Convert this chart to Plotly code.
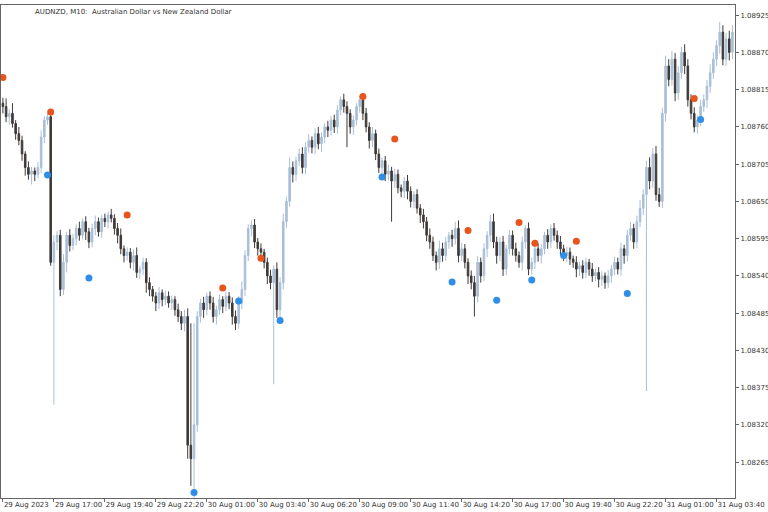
import plotly.graph_objects as go

closes = [
108790,108775,108780,108765,108750,108740,108720,108700,108690,108695,108690,108700,108745,108770,108775,108560,
108590,108600,108520,108560,108600,108585,108595,108610,108600,108620,108605,108590,108610,108620,108605,108625,
108620,108630,108625,108610,108600,108580,108570,108575,108560,108570,108545,108550,108560,108530,108520,108510,
108500,108515,108505,108510,108500,108505,108490,108480,108470,108480,108290,108270,108320,108480,108500,108490,
108510,108500,108480,108490,108505,108495,108510,108500,108480,108470,108500,108520,108570,108610,108615,108590,
108580,108575,108560,108540,108530,108550,108490,108530,108620,108650,108700,108690,108710,108720,108700,108730,
108740,108730,108750,108735,108745,108760,108755,108770,108760,108785,108800,108790,108780,108760,108770,108790,
108800,108780,108760,108740,108750,108720,108700,108710,108690,108695,108680,108690,108670,108665,108680,108665,
108650,108660,108640,108630,108620,108600,108590,108570,108560,108580,108570,108590,108600,108595,108610,108570,
108580,108560,108540,108530,108510,108560,108540,108580,108600,108620,108590,108570,108590,108550,108580,108600,
108580,108570,108560,108590,108610,108550,108560,108580,108570,108580,108600,108590,108610,108600,108590,108580,
108570,108575,108565,108560,108550,108555,108545,108560,108550,108540,108545,108535,108540,108530,108540,108550,
108560,108550,108580,108570,108600,108610,108590,108620,108640,108660,108700,108680,108720,108660,108650,108780,
108850,108830,108860,108810,108840,108870,108850,108800,108780,108760,108770,108790,108800,108820,108840,108860,
108880,108900,108860,108890,108870,108900]
wick_up = [
8,12,6,15,5,10,7,4,9,6,5,8,10,6,5,4,
10,6,8,12,5,9,7,6,10,5,8,6,7,9,6,5,
7,5,9,6,8,10,5,7,6,9,12,5,7,6,8,5,
6,9,5,8,7,6,5,9,8,10,12,180,150,8,6,9,
5,7,9,6,8,5,7,6,8,9,10,12,8,6,7,9,
6,8,5,7,9,6,10,8,12,7,15,9,6,8,10,7,
9,6,8,10,7,5,9,6,8,7,5,9,8,6,7,5,
6,9,8,7,10,6,8,5,7,9,6,8,7,5,6,9,
7,5,8,6,9,7,10,8,6,12,9,7,5,8,10,12,
9,7,6,8,10,9,7,8,6,10,12,8,7,9,6,8,
7,9,6,8,5,9,7,6,8,7,5,9,6,8,7,9,
6,8,7,5,9,6,8,7,5,9,6,8,7,5,9,6,
8,7,9,6,8,10,7,9,12,8,10,15,9,12,10,8,
15,10,12,9,10,8,12,10,8,9,7,10,8,9,12,10,
8,15,10,9,12,10]
wick_dn = [
10,8,12,6,9,7,10,12,8,15,10,6,8,9,7,5,
210,12,10,8,15,9,7,10,8,6,12,9,8,10,7,9,
8,10,6,9,12,8,10,7,9,12,8,10,9,15,10,8,
12,9,10,8,7,10,9,8,10,12,20,40,150,10,9,12,
8,10,9,12,8,10,7,9,12,10,8,9,10,8,12,9,
10,8,9,12,10,150,12,15,10,9,8,12,10,8,9,10,
8,9,10,8,12,9,10,8,9,10,8,9,50,10,12,8,
9,10,8,12,10,9,8,12,10,9,60,10,8,9,10,12,
9,10,8,12,10,9,10,8,12,10,9,8,10,12,9,10,
8,9,12,10,30,9,10,8,12,10,9,12,8,10,9,8,
10,9,8,12,10,9,8,10,9,12,8,10,9,8,10,9,
8,10,9,8,12,10,9,8,10,9,8,12,10,9,8,10,
9,8,10,12,9,8,10,9,8,10,290,12,10,9,8,10,
12,10,9,12,10,9,12,10,9,8,10,9,8,12,10,9,
10,12,9,10,12,10]
tick_idx = list(range(0, 230, 16))
tick_text = ["29 Aug 2023","29 Aug 17:00","29 Aug 19:40","29 Aug 22:20","30 Aug 01:00",
             "30 Aug 03:40","30 Aug 06:20","30 Aug 09:00","30 Aug 11:40","30 Aug 14:20",
             "30 Aug 17:00","30 Aug 19:40","30 Aug 22:20","31 Aug 01:00","31 Aug 03:40"]
y_ticks = [1.08925,1.08870,1.08815,1.08760,1.08705,1.08650,1.08595,1.08540,1.08485,
           1.08430,1.08375,1.08320,1.08265]
up_idx = [0,15,39,69,81,113,123,146,162,167,180,217]
up_val = [1.08833,1.08782,1.08630,1.08522,1.08566,1.08805,1.08742,1.08607,1.08619,1.08588,1.08591,1.08802]
dn_idx = [14,27,60,74,87,119,141,155,166,176,196,219]
dn_val = [1.08689,1.08537,1.08220,1.08503,1.08474,1.08686,1.08531,1.08504,1.08534,1.08570,1.08514,1.08771]

c = [v/1e5 for v in closes]
o = [c[0]+0.00005] + c[:-1]
h = [max(a,b)+u/1e5 for a,b,u in zip(o,c,wick_up)]
l = [min(a,b)-d/1e5 for a,b,d in zip(o,c,wick_dn)]
x = list(range(len(c)))

fig = go.Figure()
fig.add_trace(go.Candlestick(x=x, open=o, high=h, low=l, close=c, whiskerwidth=0,
    increasing=dict(line=dict(color="#a9bfd8", width=1), fillcolor="#a9bfd8"),
    decreasing=dict(line=dict(color="#3e3a38", width=1), fillcolor="#3e3a38"),
    hoverinfo="skip"))
fig.add_trace(go.Scatter(x=up_idx, y=up_val, mode="markers", marker=dict(color="#e8541e", size=7)))
fig.add_trace(go.Scatter(x=dn_idx, y=dn_val, mode="markers", marker=dict(color="#2f8fe6", size=7)))
fig.update_layout(width=768, height=512, margin=dict(l=1, r=33, t=5, b=14, autoexpand=False),
    paper_bgcolor="white", plot_bgcolor="white", showlegend=False,
    font=dict(family="DejaVu Sans", size=7, color="#333"),
    annotations=[dict(text="AUDNZD, M10:  Australian Dollar vs New Zealand Dollar", x=0.043, y=0.997,
                      xref="paper", yref="paper", xanchor="left", yanchor="top", showarrow=False,
                      font=dict(size=7, color="#333"))])
fig.update_xaxes(range=[-0.6, 229.8], tickvals=tick_idx, ticktext=tick_text, showgrid=False,
    rangeslider_visible=False, showline=True, linecolor="#666", mirror=True, ticks="outside",
    ticklen=3, tickcolor="#666", tickangle=0, automargin=False, ticklabelposition="outside right")
fig.update_yaxes(range=[1.08212, 1.08940], side="right", tickvals=y_ticks,
    ticktext=[f"{v:.5f}" for v in y_ticks], showgrid=False, showline=True, linecolor="#666",
    mirror=True, ticks="outside", ticklen=3, tickcolor="#666", automargin=False)
fig.write_html("out.html", config={"displayModeBar": False})
with open("out.html", encoding="utf-8") as f:
    page = f.read()
page = page.replace("<head>", "<head><style>html,body{margin:0;padding:0;overflow:hidden}</style>", 1)
with open("out.html", "w", encoding="utf-8") as f:
    f.write(page)
